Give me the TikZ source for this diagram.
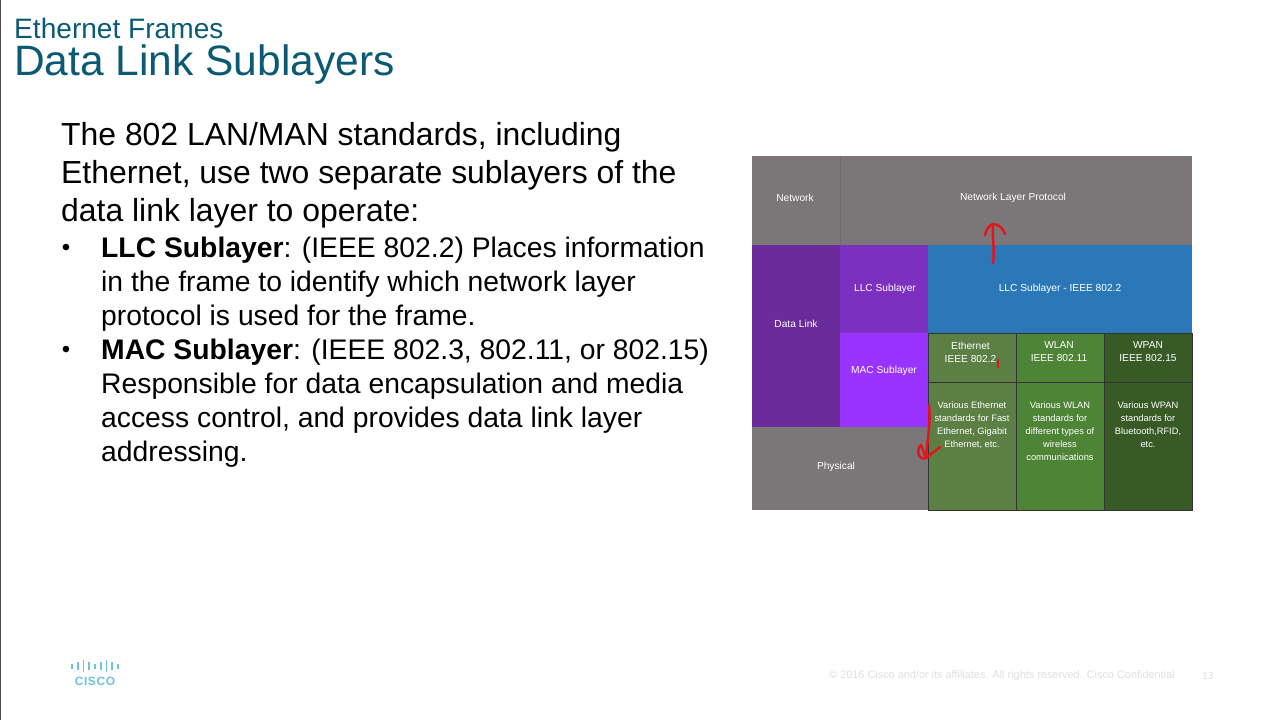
\documentclass[tikz,border=0pt]{standalone}
\usepackage{fontspec}
\setmainfont{Liberation Sans}
\definecolor{titleblue}{HTML}{0B5A75}
\definecolor{layergray}{HTML}{7B7678}
\definecolor{linkpurple}{HTML}{6A2C9A}
\definecolor{llcpurple}{HTML}{7B30C0}
\definecolor{macpurple}{HTML}{9933FF}
\definecolor{llcblue}{HTML}{2B78B8}
\definecolor{ethgreen}{HTML}{5C8043}
\definecolor{wlangreen}{HTML}{4E8435}
\definecolor{wpangreen}{HTML}{385A25}
\definecolor{penred}{HTML}{E4141F}
\definecolor{ciscoteal}{HTML}{6CC5D5}
\begin{document}
\begin{tikzpicture}[x=1pt,y=-1pt,inner sep=0pt]
    \tikzstyle{layer box}=[minimum width=88pt,text=white,font=\fontsize{10.2}{13}\selectfont,align=center]
    \tikzstyle{std box}=[layer box,draw=black!80,line width=0.8pt]
    \tikzstyle{small text}=[layer box,font=\fontsize{9.3}{13}\selectfont]
    \tikzstyle{body text}=[anchor=north west,align=left,font=\fontsize{28.3}{34}\selectfont]
    \tikzstyle{bullet}=[font=\fontsize{24}{24}\selectfont]
    \tikzstyle{pen}=[draw=penred,line width=2.5pt,line cap=round,line join=round]
    \tikzstyle{logo bar}=[draw=ciscoteal,line width=1.9pt]
    \useasboundingbox (0,0) rectangle (1280,720);
    \fill[white] (0,0) rectangle (1280,720);
    \draw[black!70,line width=1pt] (0.5,0) -- (0.5,720);
    % Title
      \node[anchor=west,text=titleblue,font=\fontsize{28.1}{30}\selectfont] (sub) at (14,28) {Ethernet Frames};
      \node[anchor=west,text=titleblue,font=\fontsize{42.5}{44}\selectfont] (title) at (14,65) {Data Link Sublayers};
    % Left text
      \node[body text,font=\fontsize{31.9}{38}\selectfont] (intro) at (61,122) {The 802 LAN/MAN standards, including\\Ethernet, use two separate sublayers of the\\data link layer to operate:};
      \node[bullet] (b1) at (66,249.5) {•};
      \node[body text] (llc text) at (101,236.5) {\textbf{LLC Sublayer}: (IEEE 802.2) Places information\\in the frame to identify which network layer\\protocol is used for the frame.};
      \node[bullet] (b2) at (66,351.5) {•};
      \node[body text] (mac text) at (101,338.5) {\textbf{MAC Sublayer}: (IEEE 802.3, 802.11, or 802.15)\\Responsible for data encapsulation and media\\access control, and provides data link layer\\addressing.};
    % Layer boxes
      \node[layer box,fill=layergray,minimum height=89pt] (network) at (796,200.5) {};
      \node[layer box,fill=layergray,minimum width=352pt,minimum height=89pt] (protocol) at (1016,200.5) {};
      \draw[layergray!90!black,line width=0.8pt] (network.north east) -- (network.south east);
      \node[layer box,fill=linkpurple,minimum height=182pt] (datalink) at (796,336) {};
      \node[layer box,fill=llcpurple,minimum height=88pt] (llc) at (884,289) {};
      \node[layer box,fill=macpurple,minimum height=94pt] (mac) at (884,380) {};
      \node[layer box,fill=layergray,minimum width=176pt,minimum height=83pt] (physical) at (840,468.5) {};
      \node[layer box,fill=llcblue,minimum width=264pt,minimum height=88pt] (llc std) at (1060,289) {};
    % Standards columns
      \node[std box,fill=ethgreen,minimum height=49pt] (eth head) at (972,357.5) {};
      \node[std box,fill=wlangreen,minimum height=49pt] (wlan head) at (1060,357.5) {};
      \node[std box,fill=wpangreen,minimum height=49pt] (wpan head) at (1148,357.5) {};
      \node[std box,fill=ethgreen,minimum height=128pt] (eth std) at (972,446) {};
      \node[std box,fill=wlangreen,minimum height=128pt] (wlan std) at (1060,446) {};
      \node[std box,fill=wpangreen,minimum height=128pt] (wpan std) at (1148,446) {};
    % Labels
      \node[layer box] (network label) at (795,197.5) {Network};
      \node[layer box] (protocol label) at (1013,197.5) {Network Layer Protocol};
      \node[layer box] (datalink label) at (796,323.5) {Data Link};
      \node[layer box] (llc label) at (885,288.5) {LLC Sublayer};
      \node[layer box] (mac label) at (884,370.5) {MAC Sublayer};
      \node[layer box] (physical label) at (836,467) {Physical};
      \node[layer box,minimum width=200pt] (llc std label) at (1060,288.5) {LLC Sublayer - IEEE 802.2};
      \node[layer box] (eth head label) at (970.5,352) {Ethernet\\IEEE 802.2};
      \node[layer box] (wlan head label) at (1059,352) {WLAN\\IEEE 802.11};
      \node[layer box] (wpan head label) at (1148,352) {WPAN\\IEEE 802.15};
      \node[small text] (eth std label) at (972,425) {Various Ethernet\\standards for Fast\\Ethernet, Gigabit\\Ethernet, etc.};
      \node[small text] (wlan std label) at (1060,431.5) {Various WLAN\\standards for\\different types of\\wireless\\communications};
      \node[small text] (wpan std label) at (1148,425) {Various WPAN\\standards for\\Bluetooth,RFID,\\etc.};
    % Red pen marks
      \coordinate (up a) at (993,263);
      \coordinate (up b) at (993,224);
      \coordinate (up c) at (985,235);
      \coordinate (up d) at (1005,234);
      \draw[pen] (up a) .. controls (995,250) and (992,238) .. (up b);
      \draw[pen] (up c) .. controls (986,230) and (989,225) .. (up b) .. controls (998,224) and (1003,228) .. (up d);
      \coordinate (tick a) at (998,360);
      \coordinate (tick b) at (998,367);
      \draw[pen] (tick a) -- (tick b);
      \coordinate (down a) at (929,405);
      \coordinate (down b) at (926,458);
      \draw[pen] (down a) .. controls (931,425) and (927,440) .. (down b);
      \coordinate (loop a) at (921,445);
      \coordinate (loop b) at (940,447);
      \draw[pen] (loop b) -- (down b) .. controls (918,461) and (916,449) .. (loop a) -- (down b);
    % Logo
      \foreach \x/\h in {72/2.5,77.7/4,83.5/6,89.2/4,95/2.5,100.7/4,106.5/6,112.2/4,118/2.5}
        \draw[logo bar] (\x,666-\h) -- (\x,666+\h);
      \node[text=ciscoteal,font=\addfontfeature{LetterSpace=5}\bfseries\fontsize{12}{12}\selectfont] (logo) at (95,681) {CISCO};
    % Footer
      \node[anchor=west,text=black!12,font=\fontsize{10.9}{12}\selectfont] (copyright) at (829,675.5) {© 2016  Cisco and/or its affiliates. All rights reserved.   Cisco Confidential};
      \node[text=black!12,font=\fontsize{10}{12}\selectfont] (page) at (1208,676) {13};
\end{tikzpicture}
\end{document}
